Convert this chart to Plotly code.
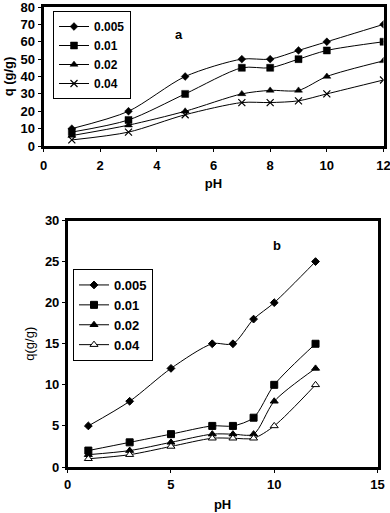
import plotly.graph_objects as go

ph = [1, 3, 5, 7, 8, 9, 10, 12]
series_names = ["0.005", "0.01", "0.02", "0.04"]

qa_0005 = [10, 20, 40, 50, 50, 55, 60, 70]
qa_001 = [8, 15, 30, 45, 45, 50, 55, 60]
qa_002 = [6, 12, 20, 30, 32, 32, 40, 49]
qa_004 = [3.5, 8, 18, 25, 25, 26, 30, 38]

qb_0005 = [5, 8, 12, 15, 15, 18, 20, 25]
qb_001 = [2, 3, 4, 5, 5, 6, 10, 15]
qb_002 = [1.5, 2, 3, 4, 4, 4, 8, 12]
qb_004 = [1, 1.5, 2.5, 3.5, 3.5, 3.5, 5, 10]

xa_ticks = [0, 2, 4, 6, 8, 10, 12]
ya_ticks = [0, 10, 20, 30, 40, 50, 60, 70, 80]
xb_ticks = [0, 5, 10, 15]
yb_ticks = [0, 5, 10, 15, 20, 25, 30]

W, H = 390, 513
FONT = "Liberation Sans, Arial, sans-serif"

symbols_a = ["diamond", "square", "triangle-up", "x-thin"]
sizes_a = [6, 7, 7, 7]
symbols_b = ["diamond", "square", "triangle-up", "triangle-up"]
fills_b = ["black", "black", "black", "white"]
sizes_b = [6, 7, 7, 7]

fig = go.Figure()

for name, vals, sym, sz in zip(series_names, [qa_0005, qa_001, qa_002, qa_004], symbols_a, sizes_a):
    fig.add_trace(go.Scatter(
        x=ph, y=vals, name=name, mode="lines+markers",
        line=dict(color="black", width=1, shape="spline", smoothing=0.8),
        marker=dict(symbol=sym, size=sz, color="black",
                    line=dict(color="black", width=1.2 if sym == "x-thin" else 0.5)),
        xaxis="x", yaxis="y", legend="legend",
    ))

for name, vals, sym, fill, sz in zip(series_names, [qb_0005, qb_001, qb_002, qb_004], symbols_b, fills_b, sizes_b):
    fig.add_trace(go.Scatter(
        x=ph, y=vals, name=name, mode="lines+markers",
        line=dict(color="black", width=1, shape="spline", smoothing=0.8),
        marker=dict(symbol=sym, size=sz, color=fill,
                    line=dict(color="black", width=1)),
        xaxis="x2", yaxis="y2", legend="legend2",
    ))

def px(x):
    return x / W

def py(y):
    return 1 - y / H

axis_common = dict(
    showline=True, mirror=True, linecolor="black", showgrid=False, zeroline=False,
    ticks="outside", ticklen=3, tickcolor="black", tickwidth=1, automargin=False,
    ticklabeloverflow="allow",
    tickfont=dict(family=FONT, size=13, color="black", weight="bold"),
)

fig.update_layout(
    template="none",
    width=W, height=H,
    margin=dict(l=0, r=0, t=0, b=0),
    paper_bgcolor="white", plot_bgcolor="white",
    font=dict(family=FONT, color="black"),
    xaxis=dict(domain=[px(43.5), px(383.5)], range=[0, 12], tickvals=xa_ticks,
               linewidth=3, anchor="y", ticklabelstandoff=2,
               title=dict(text="pH", font=dict(size=13, weight="bold"), standoff=8),
               **axis_common),
    yaxis=dict(domain=[py(146), py(7)], range=[0, 80], tickvals=ya_ticks,
               linewidth=3, anchor="x",
               title=dict(text="q (g/g)", font=dict(size=13, weight="bold"), standoff=4),
               **axis_common),
    xaxis2=dict(domain=[px(67.7), px(377.5)], range=[0, 15], tickvals=xb_ticks,
                linewidth=2.5, anchor="y2", ticklabelstandoff=1,
                title=dict(text="pH", font=dict(size=13, weight="bold"), standoff=9),
                **axis_common),
    yaxis2=dict(domain=[py(467), py(220.5)], range=[0, 30], tickvals=yb_ticks,
                linewidth=2.5, anchor="x2",
                title=dict(text="q(g/g)", font=dict(size=13), standoff=8),
                **axis_common),
    legend=dict(x=px(53), y=py(11), xanchor="left", yanchor="top",
                bordercolor="black", borderwidth=1, bgcolor="white",
                font=dict(family=FONT, size=12, weight="bold", color="black"),
                tracegroupgap=0, itemwidth=30),
    legend2=dict(x=px(73), y=py(269), xanchor="left", yanchor="top",
                 bordercolor="black", borderwidth=1, bgcolor="white",
                 font=dict(family=FONT, size=13, weight="bold", color="black"),
                 tracegroupgap=0, itemwidth=30),
    showlegend=True,
    annotations=[
        dict(text="a", x=px(179), y=py(25), xref="paper", yref="paper",
             showarrow=False, font=dict(family=FONT, size=13, weight="bold")),
        dict(text="b", x=px(283), y=py(245), xref="paper", yref="paper",
             showarrow=False, font=dict(family=FONT, size=13, weight="bold")),
    ],
)

fig.write_html("out.html",
               config={"displayModeBar": False},
               post_script="document.body.style.margin='0';document.body.style.overflow='hidden';")
